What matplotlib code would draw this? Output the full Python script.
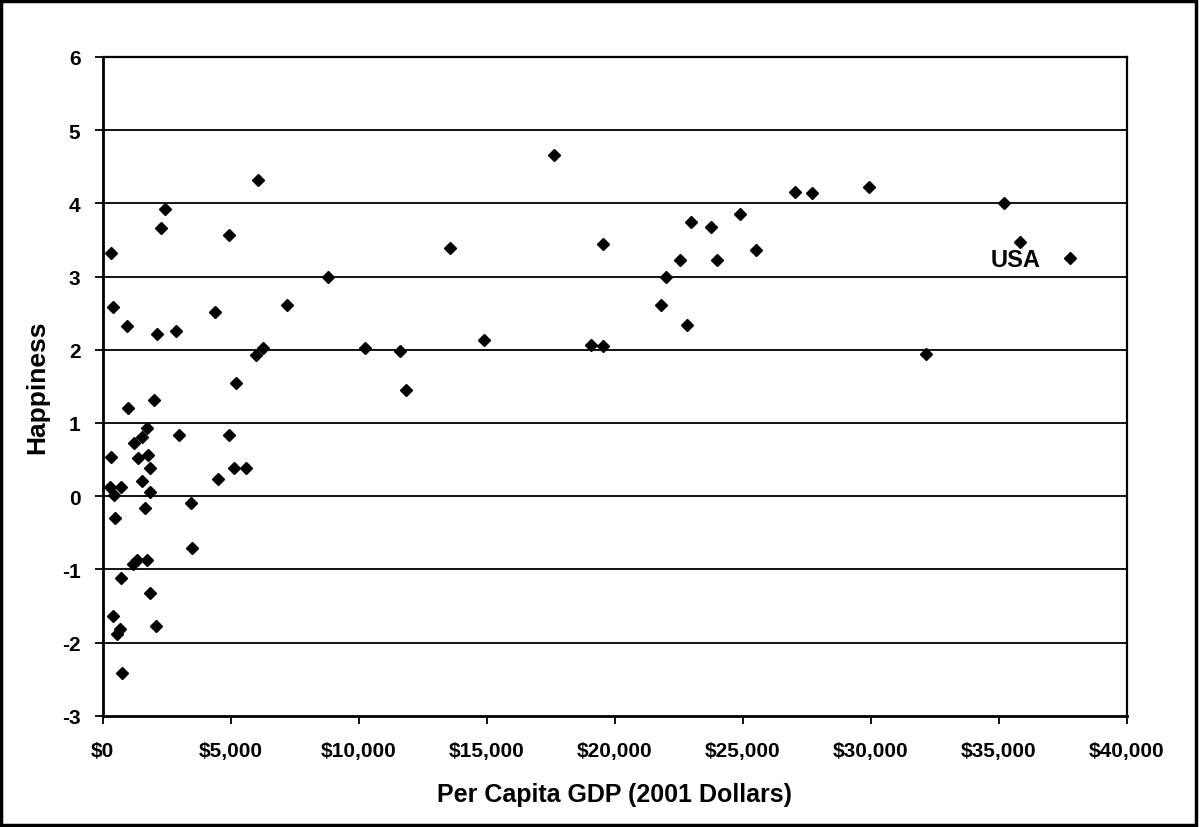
import matplotlib.pyplot as plt
from matplotlib.patches import Rectangle
from matplotlib.ticker import FuncFormatter

plt.rcParams['font.family'] = ['Liberation Sans', 'DejaVu Sans']
plt.rcParams['font.weight'] = 'bold'
plt.rcParams['axes.unicode_minus'] = False

# PIB per capita (dólares de 2001) e felicidade de cada país
pib = [17641, 27043, 27719, 24895, 22969, 23773, 19543, 25520, 22551, 23984,
       21992, 21797, 22813, 19074, 19543, 29922, 35207, 35832, 37773, 32160,
       13555, 8813, 7188, 5988, 6273, 10246, 11625, 14895, 11836,
       6078, 2434, 2289, 324, 4934, 391, 949, 2121, 2852, 4375,
       5207, 1000, 2016, 1719, 1523, 1234, 2992, 4934, 324, 1391,
       1781, 1848, 5141, 5598, 1523, 285, 703, 441, 1848, 4516,
       3461, 1652, 480, 3500, 1328, 1195, 1742, 703, 1848, 414,
       676, 547, 2070, 742]
felicidade = [4.66, 4.16, 4.14, 3.86, 3.75, 3.68, 3.45, 3.36, 3.23, 3.23,
              3.00, 2.61, 2.34, 2.07, 2.05, 4.23, 4.00, 3.47, 3.25, 1.94,
              3.39, 3.00, 2.61, 1.93, 2.02, 2.02, 1.98, 2.13, 1.45,
              4.32, 3.92, 3.66, 3.32, 3.57, 2.59, 2.32, 2.21, 2.25, 2.52,
              1.54, 1.20, 1.31, 0.93, 0.81, 0.73, 0.83, 0.83, 0.54, 0.52,
              0.56, 0.38, 0.39, 0.39, 0.20, 0.13, 0.13, 0.02, 0.05, 0.23,
              -0.09, -0.16, -0.30, -0.71, -0.87, -0.93, -0.87, -1.12, -1.32, -1.64,
              -1.82, -1.88, -1.77, -2.41]

rotulo_usa = "USA"
pos_usa = (35637, 3.23)

fig = plt.figure(figsize=(12, 8.28), dpi=100)
ax = fig.add_axes([0.0856, 0.1344, 0.8534, 0.7956])

# linhas horizontais de grade
for y in range(-2, 6):
    ax.axhline(y, color='black', lw=1.3, zorder=1)

ax.plot(pib, felicidade, linestyle='none', marker='D', markersize=6.5,
        color='black', zorder=3)

ax.text(pos_usa[0], pos_usa[1], rotulo_usa, fontsize=17, fontweight='bold',
        ha='center', va='center')

ax.set_xlim(0, 40000)
ax.set_ylim(-3, 6)
ax.set_xticks(range(0, 40001, 5000))
ax.set_yticks(range(-3, 7))
ax.xaxis.set_major_formatter(FuncFormatter(lambda v, p: '${:,.0f}'.format(v)))

ax.tick_params(axis='both', direction='out', length=6, width=1.3,
               labelsize=15)
ax.tick_params(axis='x', pad=12)
ax.tick_params(axis='y', pad=10)
for lab in ax.get_xticklabels() + ax.get_yticklabels():
    lab.set_fontweight('bold')

for lado in ['left', 'bottom']:
    ax.spines[lado].set_linewidth(2)
for lado in ['top', 'right']:
    ax.spines[lado].set_linewidth(1.6)

ax.set_xlabel('Per Capita GDP (2001 Dollars)', fontsize=18, fontweight='bold',
              labelpad=16)
ax.set_ylabel('Happiness', fontsize=19, fontweight='bold', labelpad=24)
ax.yaxis.set_label_coords(-0.052, 0.5)

# moldura em volta da figura
fig.patches.append(Rectangle((0.001, 0.002), 0.996, 0.996,
                             transform=fig.transFigure, fill=False,
                             lw=2.5, edgecolor='black'))

fig.savefig('out.png', dpi=100)
